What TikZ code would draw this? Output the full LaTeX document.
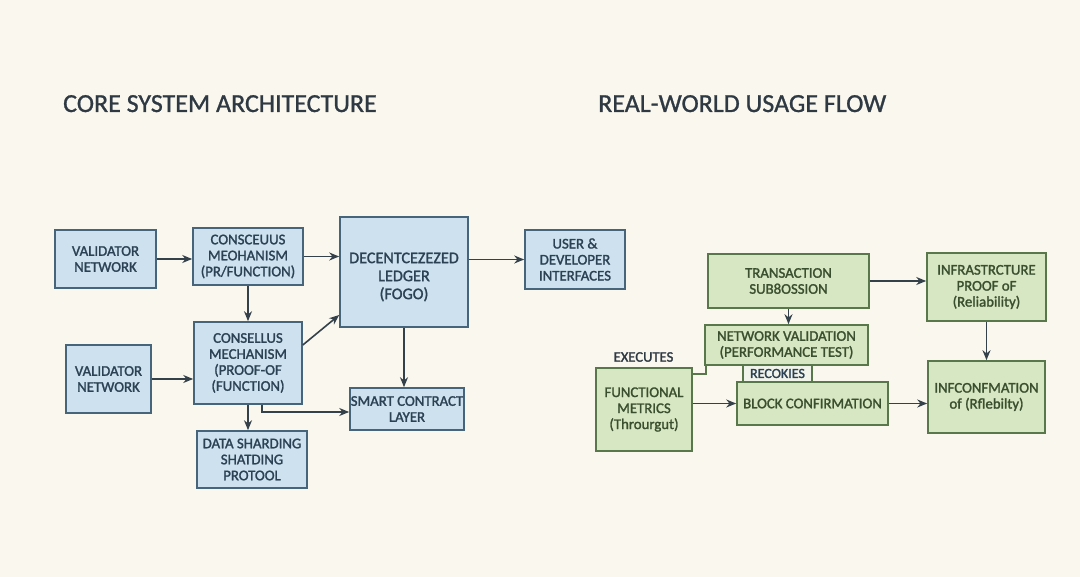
\documentclass[tikz,border=0pt]{standalone}
\usepackage{fontspec}
\setmainfont{Carlito}
\newfontfamily\boxfont{Carlito}[FakeBold=1.6]
\newfontfamily\ttlfont{Carlito}[FakeBold=1.0]
\usetikzlibrary{arrows.meta}
\definecolor{bg}{HTML}{FAF7EE}
\definecolor{bfill}{HTML}{CDE1EE}
\definecolor{bline}{HTML}{46657A}
\definecolor{btext}{HTML}{2C4254}
\definecolor{gfill}{HTML}{D7E7C3}
\definecolor{gline}{HTML}{58774A}
\definecolor{gtext}{HTML}{394F2E}
\definecolor{rfill}{HTML}{F1F4EA}
\definecolor{arrc}{HTML}{34414B}
\definecolor{ttl}{HTML}{2E3943}
\tikzset{
  bbox/.style={draw=bline, fill=bfill, line width=1.6pt, align=center, text=btext,
    inner sep=0pt, font=\boxfont\fontsize{14.8}{16}\selectfont},
  gbox/.style={draw=gline, fill=gfill, line width=1.6pt, align=center, text=gtext,
    inner sep=0pt, font=\boxfont\fontsize{14.8}{16}\selectfont},
  arr/.style={draw=arrc, line width=1.6pt, -{Stealth[length=10pt,width=8pt]}},
  gline/.style={draw=gline, line width=1.6pt},
  ttlstyle/.style={text=ttl, anchor=base west, inner sep=0pt, font=\ttlfont\fontsize{26}{30}\selectfont},
}
\begin{document}
\begin{tikzpicture}[x=1pt,y=-1pt]
\fill[bg] (0,0) rectangle (1080,577);
\useasboundingbox (0,0) rectangle (1080,577);
% titles
\node[ttlstyle] (t1) at (63,112) {CORE SYSTEM ARCHITECTURE};
\node[ttlstyle] (t2) at (598,112) {REAL-WORLD USAGE FLOW};
% left
\node[bbox, minimum width=101pt, minimum height=58pt] (v1) at (105.5,259) {VALIDATOR\\NETWORK};
\node[bbox, minimum width=110pt, minimum height=57pt] (cm1) at (248,256.5) {CONSCEUUS\\MEOHANISM\\(PR/FUNCTION)};
\node[bbox, minimum width=128pt, minimum height=110pt] (led) at (404,272) {};
\node[align=center, text=btext, inner sep=0pt, font=\boxfont\fontsize{16.2}{18}\selectfont] (ledtxt) at (404,277) {DECENTCEZEZED\\LEDGER\\(FOGO)};
\node[bbox, minimum width=100pt, minimum height=59pt] (usr) at (575,259.5) {USER \&\\DEVELOPER\\INTERFACES};
\node[bbox, minimum width=85pt, minimum height=68pt] (v2) at (108.5,379) {VALIDATOR\\NETWORK};
\node[bbox, minimum width=108pt, minimum height=82pt] (cm2) at (248,363) {CONSELLUS\\MECHANISM\\(PROOF-OF\\(FUNCTION)};
\node[bbox, minimum width=114pt, minimum height=42pt] (sc) at (407,409) {SMART CONTRACT\\LAYER};
\node[bbox, minimum width=110pt, minimum height=57pt] (ds) at (252,459.5) {DATA SHARDING\\SHATDING\\PROTOOL};
\draw[arr] (v1.east) -- (v1.east -| cm1.west);
\draw[arr] (cm1.east) -- (cm1.east -| led.west);
\draw[arr] (led.east |- usr.west) -- (usr.west);
\draw[arr] (cm1.south) -- (cm2.north);
\draw[arr] ([yshift=18pt]cm2.east) -- ([yshift=-43pt]led.west);
\draw[arr] (led.south) -- (led.south |- sc.north);
\draw[arr] (v2.east) -- (v2.east -| cm2.west);
\draw[arr] (cm2.south) -- (cm2.south |- ds.north);
\draw[arr] ([xshift=14pt]cm2.south) |- ([yshift=-3pt]sc.west);
% right
\node[gbox, minimum width=161pt, minimum height=54pt] (tr) at (788.5,281) {TRANSACTION\\SUB8OSSION};
\node[gbox, minimum width=119pt, minimum height=68pt] (inf) at (986.5,287) {INFRASTRCTURE\\PROOF oF\\(Reliability)};
\node[gbox, minimum width=163pt, minimum height=40pt] (nv) at (786.5,345) {NETWORK VALIDATION\\(PERFORMANCE TEST)};
\node[gbox, minimum width=151pt, minimum height=43pt] (bc) at (812.5,403.5) {BLOCK CONFIRMATION};
\node[draw=gline, fill=rfill, line width=1.3pt, minimum width=69pt, minimum height=17pt, inner sep=0pt,
  text=btext, font=\boxfont\fontsize{14}{15}\selectfont] (rec) at (777.5,373.5) {RECOKIES};
\node[gbox, minimum width=96pt, minimum height=83pt] (fm) at (644,409.5) {FUNCTIONAL\\METRICS\\(Throurgut)};
\node[gbox, minimum width=117pt, minimum height=72pt] (ic) at (986.5,397) {INFCONFMATION\\of (Rflebilty)};
\node[text=ttl, inner sep=0pt, font=\boxfont\fontsize{14.6}{16}\selectfont] (ex) at (643.5,357) {EXECUTES};
\draw[arr] (tr.east) -- (tr.east -| inf.west);
\draw[arr] (tr.south) -- (tr.south |- nv.north);
\draw[arr] (inf.south) -- (ic.north);
\draw[arr] (bc.west -| fm.east) -- (bc.west);
\draw[arr] (bc.east) -- (bc.east -| ic.west);
\draw[gline] ([yshift=-7pt]fm.north east) -| ([xshift=2pt]nv.south west);
\end{tikzpicture}
\end{document}
